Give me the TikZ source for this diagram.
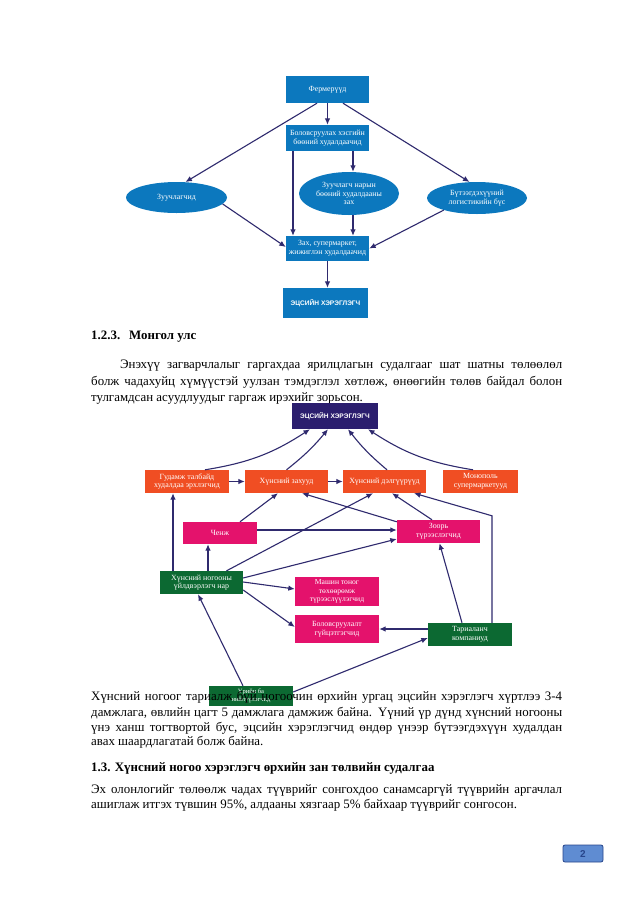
\documentclass[tikz,border=0pt]{standalone}
\usepackage{fontspec}
\setmainfont{Liberation Serif}
\newfontfamily\boxsans{Liberation Sans}
\usetikzlibrary{arrows.meta,shapes.geometric}
\definecolor{topblue}{RGB}{12,120,190}
\definecolor{navybox}{RGB}{43,30,110}
\definecolor{orangebox}{RGB}{240,78,35}
\definecolor{pinkbox}{RGB}{228,18,108}
\definecolor{greenbox}{RGB}{12,105,50}
\definecolor{arrc}{RGB}{47,42,110}
\definecolor{pgfill}{RGB}{95,140,210}
\definecolor{pgdraw}{RGB}{40,70,140}
\begin{document}
\begin{tikzpicture}[x=1pt,y=-1pt,
  arr/.style={draw=arrc,line width=1.1pt,-{Latex[length=6.5pt,width=5.5pt]}},
  bx/.style={rectangle,text=white,align=center,inner sep=0.5pt,font=\fontsize{7.9}{8.6}\selectfont},
  tbox/.style={bx,fill=topblue},
  tell/.style={ellipse,fill=topblue,text=white,align=center,inner sep=0pt,font=\fontsize{7.9}{8.8}\selectfont},
  obox/.style={bx,fill=orangebox},
  pbox/.style={bx,fill=pinkbox},
  gbox/.style={bx,fill=greenbox},
  ecbox/.style={rectangle,text=white,inner sep=0pt,font=\boxsans\bfseries\fontsize{6.6}{7.4}\selectfont},
  body/.style={anchor=base west,inner sep=0pt,font=\fontsize{12.9}{15}\selectfont},
  bodyb/.style={body,font=\fontsize{12.9}{15}\selectfont\bfseries}
]
\useasboundingbox (0,0) rectangle (638,903);
\fill[white] (0,0) rectangle (638,903);

% ---------- top diagram ----------
\node[tbox,minimum width=83pt,minimum height=27pt] (far) at (327.5,89.5) {Фермерүүд};
\node[tbox,minimum width=83pt,minimum height=26pt] (bol) at (327.5,138) {Боловсруулах хэсгийн\\бөөний худалдаачид};
\node[tell,minimum width=101pt,minimum height=31pt] (zuu) at (176.5,197.5) {Зуучлагчид};
\node[tell,minimum width=100pt,minimum height=43pt] (mid) at (349,193.5) {Зуучлагч нарын\\бөөний худалдааны\\зах};
\node[tell,minimum width=100pt,minimum height=32pt] (log) at (477,198) {Бүтээгдэхүүний\\логистикийн бүс};
\node[tbox,minimum width=83pt,minimum height=25pt] (zah) at (327.5,248.5) {Зах, супермаркет,\\жижиглэн худалдаачид};
\node[tbox,ecbox,minimum width=85pt,minimum height=30pt] (ecs) at (325.5,303) {ЭЦСИЙН ХЭРЭГЛЭГЧ};

\draw[arr] ([xshift=-10.5pt]far.south) -- (zuu.60);
\draw[arr] (far.south) -- (bol.north);
\draw[arr] ([xshift=15.5pt]far.south) -- (log.115);
\draw[arr] ([xshift=-34.5pt]bol.south) -- ([xshift=-34.5pt]zah.north);
\draw[arr] ([xshift=25.5pt]bol.south) -- ([xshift=25.5pt]bol.south |- mid.north);
\draw[arr] ([xshift=25.5pt]zah.north |- mid.south) -- ([xshift=25.5pt]zah.north);
\draw[arr] (zuu.-8) -- ([yshift=1.5pt]zah.west);
\draw[arr] (log.200) -- (zah.east);
\draw[arr] (zah.south) -- (zah.south |- ecs.north);

% ---------- text 1 ----------
\node[bodyb] (h1a) at (91,339) {1.2.3.};
\node[bodyb] (h1b) at (129,339) {Монгол улс};
\node[body] (p1a) at (120,368.3) {\makebox[442pt][s]{Энэхүү загварчлалыг гаргахдаа ярилцлагын судалгааг шат шатны төлөөлөл}};
\node[body] (p1b) at (91,385.3) {\makebox[471pt][s]{болж чадахуйц хүмүүстэй уулзан тэмдэглэл хөтлөж, өнөөгийн төлөв байдал болон}};
\node[body] (p1c) at (91,401.8) {тулгамдсан асуудлуудыг гаргаж ирэхийг зорьсон.};

% ---------- second diagram ----------
\node[ecbox,fill=navybox,minimum width=86pt,minimum height=26pt] (ec2) at (335,416) {ЭЦСИЙН ХЭРЭГЛЭГЧ};
\node[obox,minimum width=84pt,minimum height=23pt] (gud) at (187,481.5) {Гудамж талбайд\\худалдаа эрхлэгчид};
\node[obox,minimum width=83pt,minimum height=23pt] (zax) at (286.5,481.5) {Хүнсний захууд};
\node[obox,minimum width=83pt,minimum height=23pt] (del) at (384.5,481.5) {Хүнсний дэлгүүрүүд};
\node[obox,minimum width=75pt,minimum height=23pt] (mon) at (480.5,481.5) {Монополь\\супермаркетууд};
\node[pbox,minimum width=74pt,minimum height=22pt] (chen) at (220,533) {Ченж};
\node[pbox,minimum width=83pt,minimum height=23pt] (zoo) at (438.5,531.5) {Зоорь\\түрээслэгчид};
\node[gbox,minimum width=83pt,minimum height=23pt] (gr1) at (201.5,582.5) {Хүнсний ногооны\\үйлдвэрлэгч нар};
\node[pbox,minimum width=84pt,minimum height=29pt,font=\fontsize{7.6}{8.4}\selectfont] (mash) at (337,591.5) {Машин тоног\\төхөөрөмж\\түрээслүүлэгчид};
\node[pbox,minimum width=84pt,minimum height=28pt] (bolv) at (337,629) {Боловсруулалт\\гүйцэтгэгчид};
\node[gbox,minimum width=84pt,minimum height=23pt] (tar) at (470,634.5) {Тариаланч\\компаниуд};
\node[gbox,minimum width=84pt,minimum height=20pt,font=\fontsize{6.5}{7.6}\selectfont] (gr2) at (251,696) {Үрийн ба\\нийлүүлэгчид};

\draw[arr] ([xshift=18pt]gud.north) to[bend right=12] ([xshift=-25pt]ec2.south);
\draw[arr] (zax.north) to[bend right=6] ([xshift=-7pt]ec2.south);
\draw[arr] ([xshift=2.5pt]del.north) to[bend left=6] ([xshift=13pt]ec2.south);
\draw[arr] ([xshift=-7.5pt]mon.north) to[bend left=12] ([xshift=33pt]ec2.south);
\draw[arr] (gud.east) -- (zax.west);
\draw[arr] (zax.east) -- (del.west);
\draw[arr] ([xshift=-28.5pt]gr1.north) -- ([xshift=-28.5pt]gr1.north |- gud.south);
\draw[arr] ([xshift=6.5pt]gr1.north) -- ([xshift=6.5pt]gr1.north |- chen.south);
\draw[arr] ([xshift=20pt]chen.north) -- ([xshift=-8.5pt]zax.south);
\draw[arr] ([yshift=-2pt]zoo.north west) -- ([xshift=15.5pt]zax.south);
\draw[arr] ([xshift=25pt]gr1.north) -- ([xshift=-11.5pt]del.south);
\draw[arr] ([xshift=-6.5pt]zoo.north) -- ([xshift=7.5pt]del.south);
\draw[arr] ([xshift=22pt]tar.north) -- ++(0,-107) -- ([xshift=29.5pt]del.south);
\draw[arr] ([yshift=1.5pt]zoo.west -| chen.east) -- ([yshift=1.5pt]zoo.west);
\draw[arr] ([yshift=4.5pt]gr1.east) -- ([yshift=-7.5pt]zoo.west);
\draw[arr] ([yshift=0.5pt]gr1.east) -- ([yshift=2.5pt]mash.west);
\draw[arr] ([yshift=-7.5pt]gr1.east) -- ([yshift=2pt]bolv.west);
\draw[arr] (tar.west |- bolv.east) -- (bolv.east);
\draw[arr] ([yshift=4pt]gr2.east) -- ([yshift=-3.5pt]tar.west);
\draw[arr] ([xshift=-8pt]gr2.north) -- ([xshift=-3.5pt]gr1.south);
\draw[arr] ([xshift=-8pt]tar.north) -- ([xshift=1pt]zoo.south);

% ---------- text 2 ----------
\node[body] (p2a) at (91,700.7) {\makebox[471pt][s]{Хүнсний ногоог тариалж бүй ногоочин өрхийн ургац эцсийн хэрэглэгч хүртлээ 3-4}};
\node[body] (p2b) at (91,716) {\makebox[471pt][s]{дамжлага, өвлийн цагт 5 дамжлага дамжиж байна. Үүний үр дүнд хүнсний ногооны}};
\node[body] (p2c) at (91,731) {\makebox[471pt][s]{үнэ ханш тогтвортой бус, эцсийн хэрэглэгчид өндөр үнээр бүтээгдэхүүн худалдан}};
\node[body] (p2d) at (91,745.7) {авах шаардлагатай болж байна.};

\node[bodyb] (h2) at (91,771) {1.3. Хүнсний ногоо хэрэглэгч өрхийн зан төлвийн судалгаа};
\node[body] (p3a) at (91,793.3) {\makebox[471pt][s]{Эх олонлогийг төлөөлж чадах түүврийг сонгохдоо санамсаргүй түүврийн аргачлал}};
\node[body] (p3b) at (91,808.3) {ашиглаж итгэх түвшин 95\%, алдааны хязгаар 5\% байхаар түүврийг сонгосон.};

% ---------- page number ----------
\node[draw=pgdraw,fill=pgfill,rounded corners=2pt,line width=0.8pt,minimum width=40pt,minimum height=17pt,inner sep=0pt,text=pgdraw,font=\boxsans\bfseries\fontsize{10}{12}\selectfont] (pg) at (583,853.5) {2};
\end{tikzpicture}
\end{document}
